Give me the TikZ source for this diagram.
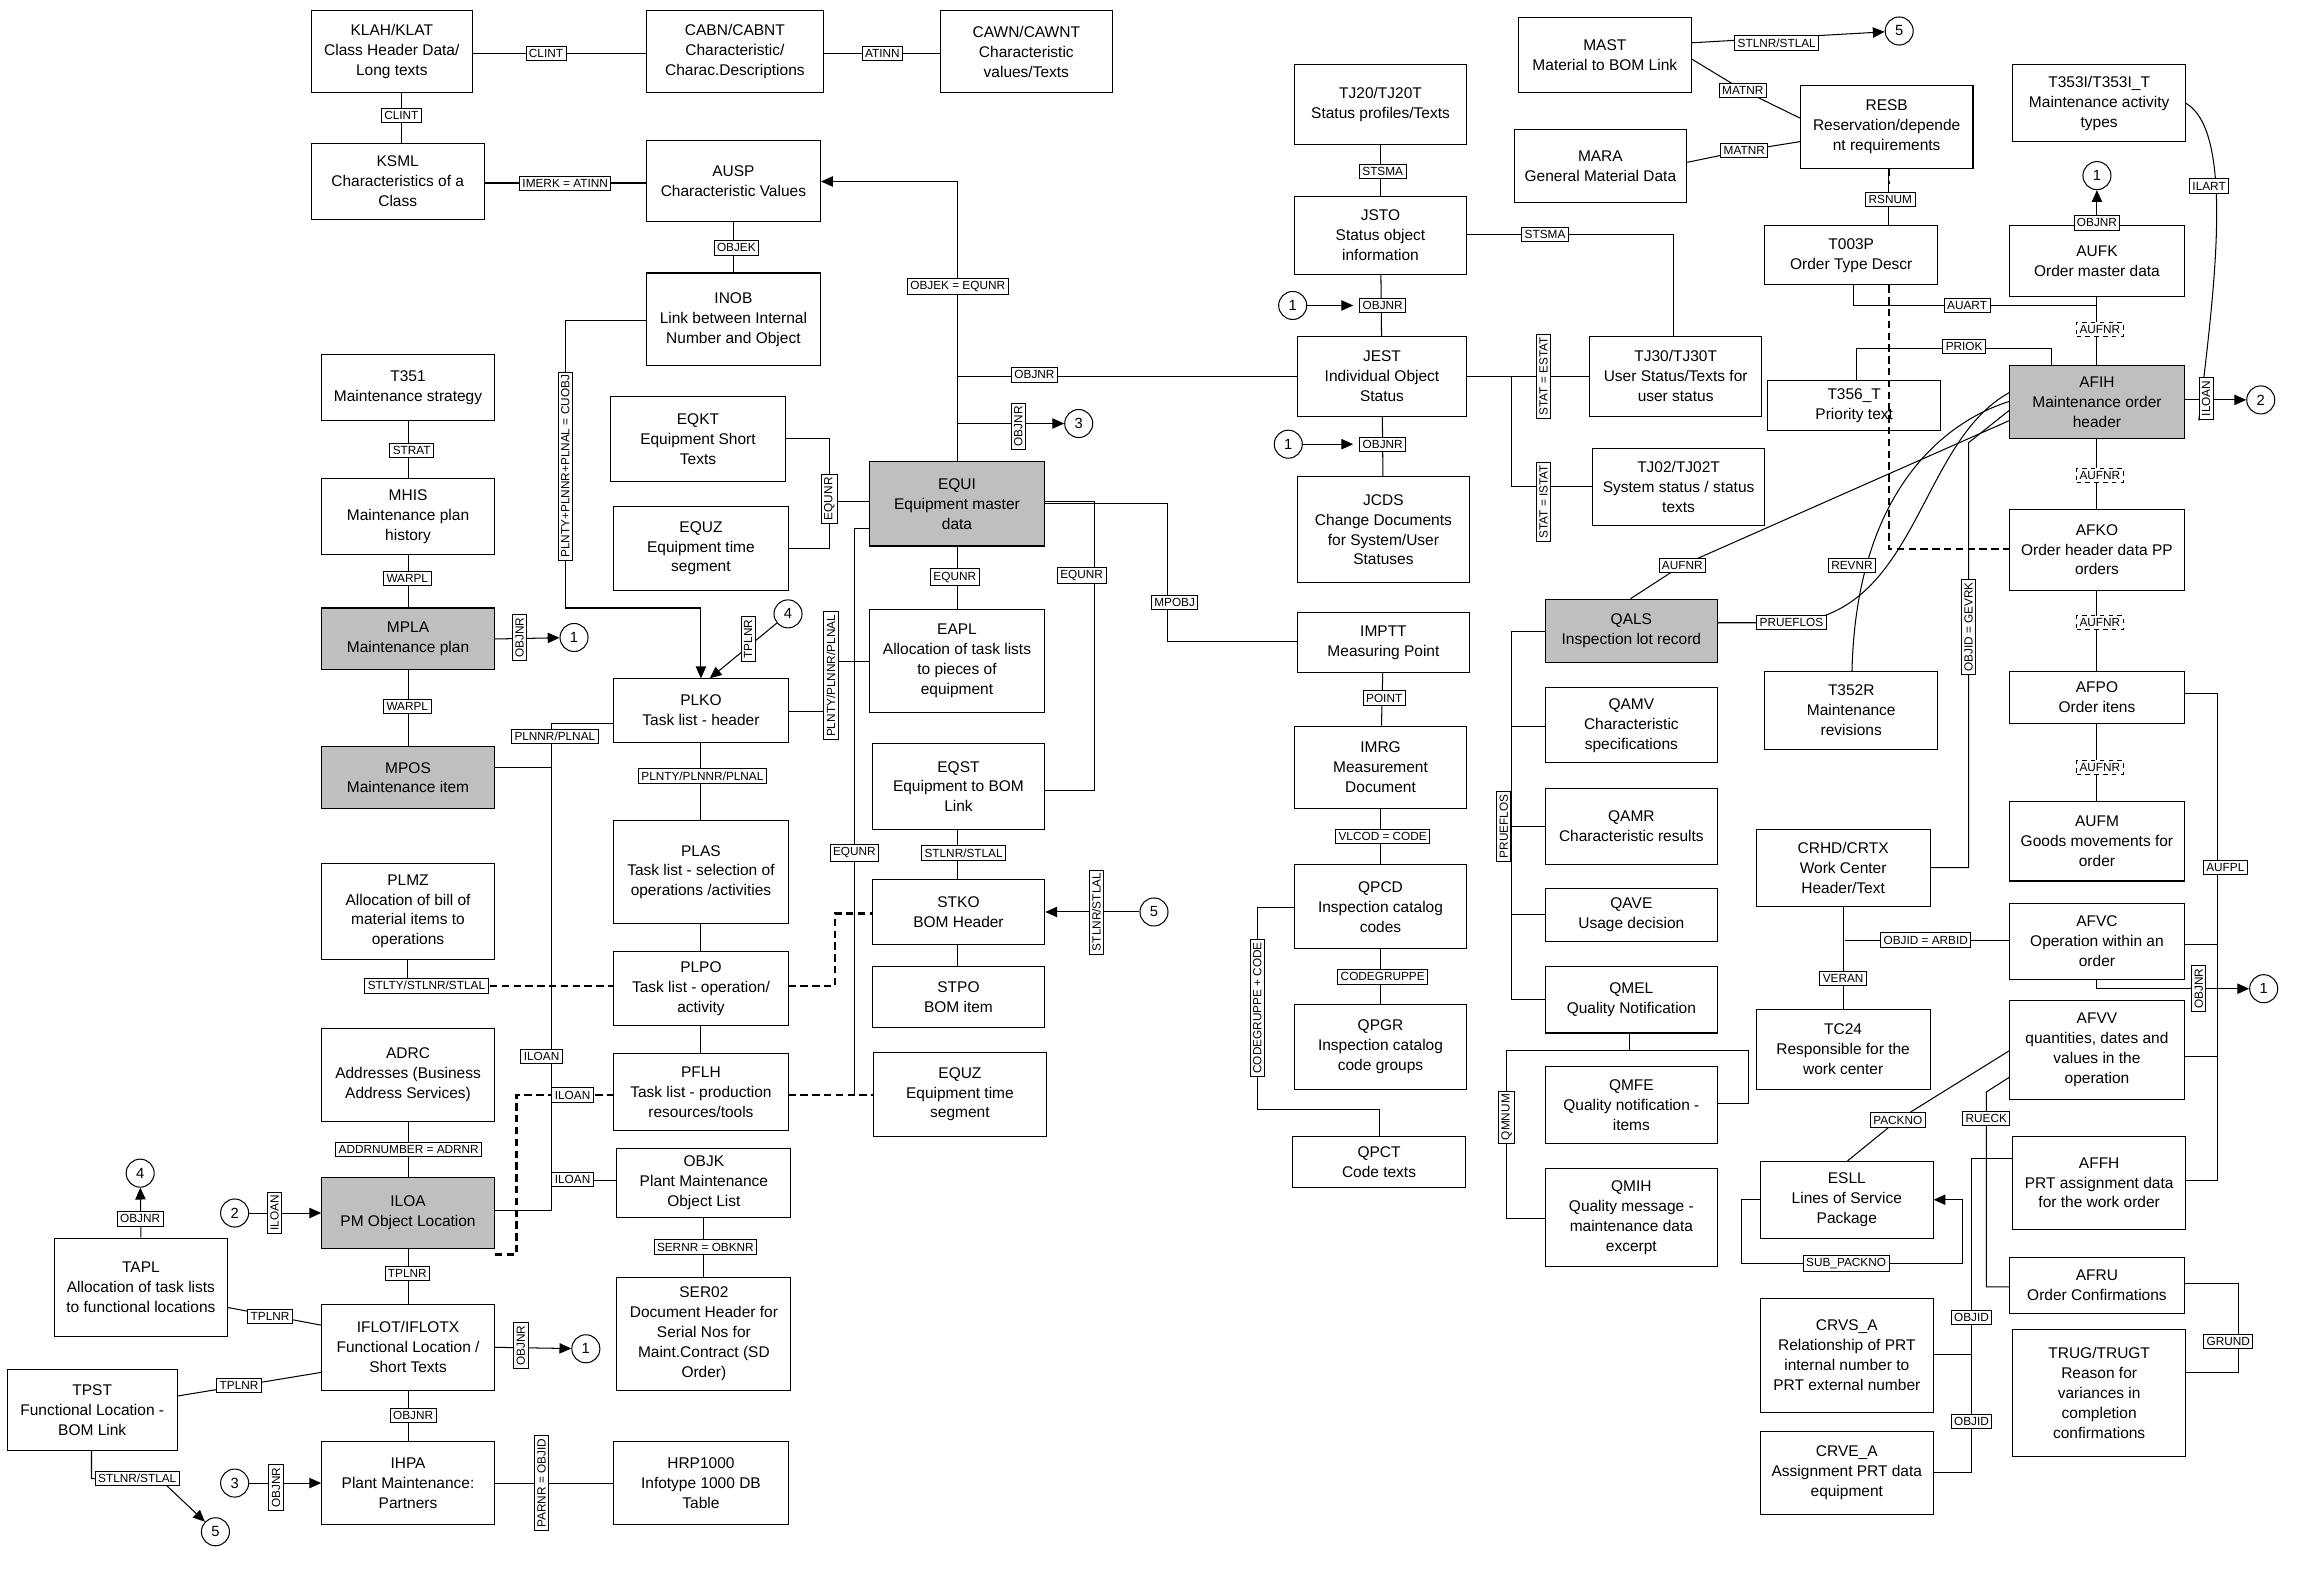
\documentclass[tikz,border=0pt]{standalone}
\usepackage{fontspec}
\setmainfont{Liberation Sans}
\usetikzlibrary{arrows.meta}
\begin{document}
\begin{tikzpicture}[x=1pt,y=-1pt,
 box/.style={draw,line width=0.7pt,align=center,inner sep=1pt,font=\fontsize{10.5}{13.5}\selectfont},
 gbox/.style={box,fill=black!25},
 lab/.style={draw,fill=white,line width=0.6pt,inner sep=2pt,font=\fontsize{8}{9}\selectfont},
 vlab/.style={lab,rotate=90},
 dlab/.style={lab,dashed},
 circ/.style={draw,circle,line width=0.7pt,inner sep=0pt,minimum size=19pt,font=\fontsize{10}{11}\selectfont},
 ln/.style={line width=0.7pt},
 ar/.style={ln,-{Triangle[length=8pt,width=7pt]}},
 dl/.style={line width=1.6pt,dash pattern=on 5pt off 3pt}]
\useasboundingbox (0,0) rectangle (1562,1063);
\newcommand\B[7][box]{\pgfmathsetmacro\w{#5-#3}\pgfmathsetmacro\h{#6-#4}\node[#1,minimum width=\w pt,minimum height=\h pt] (#2) at ({(#3+#5)/2},{(#4+#6)/2}) {#7};}
\newcommand\C[3]{\node[circ] (#1) at (#2) {#3};}
% ---------- boxes
\B{klah}{211}{7}{320}{63}{KLAH/KLAT\\Class Header Data/\\Long texts}
\B{cabn}{438}{7}{558}{63}{CABN/CABNT\\Characteristic/\\Charac.Descriptions}
\B{cawn}{637}{7}{754}{63}{CAWN/CAWNT\\Characteristic\\values/Texts}
\B{ksml}{211}{97}{328}{149}{KSML\\Characteristics of a\\Class}
\B{ausp}{438}{95}{556}{150}{AUSP\\Characteristic Values}
\B{inob}{438}{185}{556}{248}{INOB\\Link between Internal\\Number and Object}
\B{t351}{218}{240}{335}{285}{T351\\Maintenance strategy}
\B{mhis}{218}{324}{335}{376}{MHIS\\Maintenance plan\\history}
\B[gbox]{mpla}{218}{412}{335}{454}{MPLA\\Maintenance plan}
\B[gbox]{mpos}{218}{506}{335}{548}{MPOS\\Maintenance item}
\B{plmz}{218}{585}{335}{650}{PLMZ\\Allocation of bill of\\material items to\\operations}
\B{adrc}{218}{697}{335}{760}{ADRC\\Addresses (Business\\Address Services)}
\B[gbox]{iloa}{218}{798}{335}{846}{ILOA\\PM Object Location}
\B{iflot}{218}{884}{335}{942}{IFLOT/IFLOTX\\Functional Location /\\Short Texts}
\B{ihpa}{218}{977}{335}{1033}{IHPA\\Plant Maintenance:\\Partners}
\B{hrp}{416}{977}{534}{1033}{HRP1000\\Infotype 1000 DB\\Table}
\B{tapl}{37}{839}{154}{906}{TAPL\\Allocation of task lists\\to functional locations}
\B{tpst}{5}{928}{120}{983}{TPST\\Functional Location -\\BOM Link}
\B{eqkt}{414}{269}{532}{326}{EQKT\\Equipment Short\\Texts}
\B{equz}{416}{343}{534}{400}{EQUZ\\Equipment time\\segment}
\B[gbox]{equi}{589}{313}{708}{370}{EQUI\\Equipment master\\data}
\B{eapl}{589}{413}{708}{483}{EAPL\\Allocation of task lists\\to pieces of\\equipment}
\B{eqst}{591}{504}{708}{562}{EQST\\Equipment to BOM\\Link}
\B{stko}{591}{596}{708}{640}{STKO\\BOM Header}
\B{stpo}{591}{655}{708}{696}{STPO\\BOM item}
\B{equzb}{592}{713}{709}{770}{EQUZ\\Equipment time\\segment}
\B{plko}{416}{460}{534}{503}{PLKO\\Task list - header}
\B{plas}{416}{556}{534}{626}{PLAS\\Task list - selection of\\operations /activities}
\B{plpo}{416}{645}{534}{695}{PLPO\\Task list - operation/\\activity}
\B{pflh}{416}{714}{534}{766}{PFLH\\Task list - production\\resources/tools}
\B{objk}{418}{778}{536}{825}{OBJK\\Plant Maintenance\\Object List}
\B{ser}{418}{866}{536}{942}{SER02\\Document Header for\\Serial Nos for\\Maint.Contract (SD\\Order)}
\B{tj20}{877}{44}{994}{98}{TJ20/TJ20T\\Status profiles/Texts}
\B{jsto}{877}{133}{994}{186}{JSTO\\Status object\\information}
\B{jest}{879}{228}{994}{282}{JEST\\Individual Object\\Status}
\B{jcds}{879}{323}{996}{395}{JCDS\\Change Documents\\for System/User\\Statuses}
\B{tj30}{1077}{228}{1194}{282}{TJ30/TJ30T\\User Status/Texts for\\user status}
\B{tj02}{1079}{304}{1196}{356}{TJ02/TJ02T\\System status / status\\texts}
\B{imptt}{879}{415}{996}{456}{IMPTT\\Measuring Point}
\B{imrg}{877}{492}{994}{548}{IMRG\\Measurement\\Document}
\B{qpcd}{877}{586}{994}{643}{QPCD\\Inspection catalog\\codes}
\B{qpgr}{877}{681}{994}{738}{QPGR\\Inspection catalog\\code groups}
\B{qpct}{876}{770}{993}{805}{QPCT\\Code texts}
\B{mast}{1029}{12}{1146}{63}{MAST\\Material to BOM Link}
\B{resb}{1220}{58}{1337}{114}{RESB\\Reservation/depende\\nt requirements}
\B{mara}{1026}{88}{1143}{137}{MARA\\General Material Data}
\B{t003p}{1196}{153}{1313}{193}{T003P\\Order Type Descr}
\B{aufk}{1362}{153}{1480}{201}{AUFK\\Order master data}
\B{t356}{1198}{258}{1315}{292}{T356\_T\\Priority text}
\B[gbox]{afih}{1362}{248}{1480}{297}{AFIH\\Maintenance order\\header}
\B{t353}{1364}{44}{1481}{96}{T353I/T353I\_T\\Maintenance activity\\types}
\B{afko}{1362}{345}{1480}{400}{AFKO\\Order header data PP\\orders}
\B{afpo}{1362}{455}{1480}{490}{AFPO\\Order itens}
\B{aufm}{1362}{543}{1480}{597}{AUFM\\Goods movements for\\order}
\B{afvc}{1362}{612}{1480}{664}{AFVC\\Operation within an\\order}
\B{afvv}{1362}{678}{1480}{745}{AFVV\\quantities, dates and\\values in the\\operation}
\B{affh}{1364}{770}{1481}{833}{AFFH\\PRT assignment data\\for the work order}
\B{afru}{1362}{852}{1480}{890}{AFRU\\Order Confirmations}
\B{trug}{1364}{901}{1481}{987}{TRUG/TRUGT\\Reason for\\variances in\\completion\\confirmations}
\B[gbox]{qals}{1047}{406}{1164}{449}{QALS\\Inspection lot record}
\B{qamv}{1047}{466}{1164}{517}{QAMV\\Characteristic\\specifications}
\B{qamr}{1047}{534}{1164}{586}{QAMR\\Characteristic results}
\B{qave}{1047}{602}{1164}{638}{QAVE\\Usage decision}
\B{qmel}{1047}{655}{1164}{700}{QMEL\\Quality Notification}
\B{qmfe}{1047}{723}{1164}{775}{QMFE\\Quality notification -\\items}
\B{qmih}{1047}{792}{1164}{858}{QMIH\\Quality message -\\maintenance data\\excerpt}
\B{t352}{1196}{455}{1313}{508}{T352R\\Maintenance\\revisions}
\B{crhd}{1190}{562}{1308}{614}{CRHD/CRTX\\Work Center\\Header/Text}
\B{tc24}{1190}{684}{1308}{738}{TC24\\Responsible for the\\work center}
\B{esll}{1193}{787}{1310}{839}{ESLL\\Lines of Service\\Package}
\B{crvs}{1193}{880}{1310}{957}{CRVS\_A\\Relationship of PRT\\internal number to\\PRT external number}
\B{crve}{1193}{970}{1310}{1026}{CRVE\_A\\Assignment PRT data\\equipment}
% ---------- circles
\C{c1a}{389,432}{1}\C{c1b}{397,914}{1}\C{c1c}{876,207}{1}\C{c1d}{873,301}{1}
\C{c1e}{1421,119}{1}\C{c1f}{1534,670}{1}
\C{c2a}{159,822}{2}\C{c2b}{1532,271}{2}
\C{c3a}{731,287}{3}\C{c3b}{159,1005}{3}
\C{c4a}{534,416}{4}\C{c4b}{95,795}{4}
\C{c5a}{782,618}{5}\C{c5b}{146,1038}{5}\C{c5c}{1287,21}{5}
% ---------- connectors
\draw[ln] (klah.east|-0,36)--(cabn.west|-0,36);
\draw[ln] (cabn.east|-0,36)--(cawn.west|-0,36);
\draw[ln] (klah.south-|272,0)--(ksml.north-|272,0);
\draw[ln] (ksml.east|-0,124)--(ausp.west|-0,124);
\draw[ln] (ausp)--(inob);
\draw[ar] (equi.north-|649,0)--(649,123)--(ausp.east|-0,123);
\draw[ar] (inob.west|-0,217)--(383,217)--(383,412)--(475,412)--(plko.north-|475,0);
\draw[ar] (c4a)--(plko.north-|481,0);
\draw[ln] (t351)--(mhis); \draw[ln] (mhis)--(mpla); \draw[ln] (mpla)--(mpos);
\draw[ar] (mpla.east)--(c1a);
\draw[ln] (plko.west|-0,490)--(374,490)--(374,820)--(iloa.east|-0,820);
\draw[ln] (mpos.east|-0,520)--(374,520);
\draw[ln] (plko)--(plas); \draw[ln] (plas)--(plpo); \draw[ln] (plpo)--(pflh);
\draw[ln] (plmz.south-|276,0)--(276,668);
\draw[dl] (300,668)--(plpo.west|-0,668);
\draw[dl] (plpo.east|-0,668)--(566,668)--(566,619)--(stko.west|-0,619);
\draw[ln] (adrc)--(iloa);
\draw[dl] (iloa.east|-0,850)--(350,850)--(350,742)--(pflh.west|-0,742);
\draw[dl] (pflh.east|-0,742)--(equzb.west|-0,742);
\draw[ln] (374,800)--(objk.west|-0,800);
\draw[ar] (c2a)--(iloa.west|-0,822);
\draw[ln] (iloa)--(iflot); \draw[ln] (iflot)--(ihpa);
\draw[ar] (iflot.east|-0,913)--(c1b);
\draw[ar] (c3b)--(ihpa.west|-0,1005);
\draw[ln] (ihpa.east|-0,1005)--(hrp.west|-0,1005);
\draw[ar] (tapl.north)--(c4b);
\draw[ln] (tapl.east|-0,886)--(iflot.west|-0,898);
\draw[ln] (tpst.east|-0,946)--(iflot.west|-0,930);
\draw[ar] (tpst.south-|62,0)--(62,1002)--(108,1002)--(c5b);
\draw[ln] (objk)--(ser);
\draw[ln] (eqkt.east|-0,297)--(562,297)--(562,372)--(equz.east|-0,372);
\draw[ln] (562,340)--(equi.west|-0,340);
\draw[ln] (equi.east|-0,340)--(742,340)--(742,536)--(eqst.east|-0,536);
\draw[ln] (equi.south-|649,0)--(eapl.north-|649,0);
\draw[ln] (plko.east|-0,482)--(563,482)--(563,448)--(eapl.west|-0,448);
\draw[ln] (eqst.south-|649,0)--(stko.north-|649,0);
\draw[ln] (stko.south-|649,0)--(stpo.north-|649,0);
\draw[ar] (c5a)--(stko.east|-0,618);
\draw[ln] (equi.west|-0,358)--(579,358)--(579,742);
\draw[ln] (equi.east|-0,341)--(791,341)--(791,435)--(imptt.west|-0,435);
\draw[ln] (649,255)--(jest.west|-0,255);
\draw[ar] (649,287)--(c3a);
\draw[ln] (tj20)--(jsto); \draw[ln] (jsto)--(jest); \draw[ln] (jest)--(jcds);
\draw[ar] (c1c)--(917,207); \draw[ar] (c1d)--(917,301);
\draw[ln] (jsto.east|-0,159)--(1134,159)--(tj30.north-|1134,0);
\draw[ln] (jest.east|-0,255)--(tj30.west|-0,255);
\draw[ln] (1024,255)--(1024,330)--(tj02.west|-0,330);
\draw[ln] (imptt)--(imrg); \draw[ln] (imrg)--(qpcd); \draw[ln] (qpcd)--(qpgr);
\draw[ln] (qpcd.west|-0,615)--(852,615)--(852,752)--(935,752)--(qpct.north-|935,0);
\draw[ar] (mast.east|-0,29)--(c5c);
\draw[ln] (mast.east|-0,40)--(1181,61)--(resb.west|-0,80);
\draw[ln] (mara.east|-0,110)--(1182,102)--(resb.west|-0,96);
\draw[ln] (resb.south-|1280,0)--(t003p.north-|1280,0);
\draw[dl] (resb.south-|1280,0)--(1280,125);
\draw[dl] (t003p.south-|1280,0)--(1280,372)--(afko.west|-0,372);
\draw[ln] (t003p.south-|1256,0)--(1256,207)--(1421,207);
\draw[ar] (aufk)--(c1e);
\draw[ln] (aufk)--(afih);
\draw[ln] (t356.north-|1258,0)--(1258,236)--(1390,236)--(afih.north-|1390,0);
\draw[ln] (t353.east|-0,70) .. controls (1515,90) and (1500,200) .. (1490,285);
\draw[ar] (afih.east|-0,271)--(c2b);
\draw[ln] (qals.north-|1105,0)--(1140,383)--(afih.west|-0,285);
\draw[ln] (t352.north-|1255,0) .. controls (1258,330) and (1320,285) .. (afih.west|-0,272);
\draw[ln] (qals.east|-0,422)--(1214,422) .. controls (1300,415) and (1300,300) .. (afih.west|-0,266);
\draw[ln] (crhd.east|-0,588)--(1334,588)--(1334,300)--(afih.west|-0,278);
\draw[ln] (afih)--(afko); \draw[ln] (afko)--(afpo); \draw[ln] (afpo)--(aufm);
\draw[ln] (afpo.east|-0,470)--(1503,470)--(1503,800)--(affh.east|-0,800);
\draw[ln] (1503,716)--(afvv.east|-0,716);
\draw[ln] (1503,640)--(afvc.east|-0,640);
\draw[ar] (afvc.south-|1421,0)--(1421,670)--(c1f);
\draw[ln] (crhd)--(tc24);
\draw[ln] (1250,637)--(afvc.west|-0,637);
\draw[ln] (esll.north-|1252,0)--(1286,759)--(afvv.west|-0,712);
\draw[ln] (afvv.west|-0,730)--(1346,740)--(1346,872)--(afru.west|-0,872);
\draw[ar] (esll.west|-0,813)--(1180,813)--(1180,856)--(1330,856)--(1330,813)--(esll.east|-0,813);
\draw[ln] (crvs.east|-0,918)--(1336,918)--(1336,998)--(crve.east|-0,998);
\draw[ln] (1336,918)--(1336,785)--(affh.west|-0,785);
\draw[ln] (afru.east|-0,870)--(1517,870)--(1517,930)--(trug.east|-0,930);
\draw[ln] (qals.west|-0,428)--(1024,428)--(1024,677)--(qmel.west|-0,677);
\foreach \y in {492,560,620} \draw[ln] (1024,\y)--(1047,\y);
\draw[ln] (qmel.south-|1104,0)--(1104,712)--(1021,712)--(1021,826)--(qmih.west|-0,826);
\draw[ln] (qmfe.east|-0,748)--(1185,748)--(1185,712)--(1104,712);
% ---------- labels
\node[lab] at (370,36) {CLINT};
\node[lab] at (598,36) {ATINN};
\node[lab] at (272,78) {CLINT};
\node[lab] at (383,124) {IMERK = ATINN};
\node[lab] at (499,168) {OBJEK};
\node[lab] at (649,194) {OBJEK = EQUNR};
\node[vlab] at (383,316) {PLNTY+PLNNR+PLNAL = CUOBJ};
\node[vlab] at (507,433) {TPLNR};
\node[lab] at (279,305) {STRAT};
\node[lab] at (276,392) {WARPL};
\node[vlab] at (352,432) {OBJNR};
\node[lab] at (276,479) {WARPL};
\node[lab] at (376,499) {PLNNR/PLNAL};
\node[lab] at (476,526) {PLNTY/PLNNR/PLNAL};
\node[lab] at (289,668) {STLTY/STLNR/STLAL};
\node[lab] at (367,716) {ILOAN};
\node[lab] at (388,742) {ILOAN};
\node[lab] at (388,799) {ILOAN};
\node[lab] at (277,779) {ADDRNUMBER = ADRNR};
\node[vlab] at (186,822) {ILOAN};
\node[lab] at (276,863) {TPLNR};
\node[vlab] at (353,912) {OBJNR};
\node[lab] at (280,959) {OBJNR};
\node[vlab] at (187,1008) {OBJNR};
\node[vlab] at (367,1005) {PARNR = OBJID};
\node[lab] at (95,826) {OBJNR};
\node[lab] at (183,892) {TPLNR};
\node[lab] at (162,939) {TPLNR};
\node[lab] at (93,1002) {STLNR/STLAL};
\node[lab] at (478,845) {SERNR = OBKNR};
\node[vlab] at (562,338) {EQUNR};
\node[lab] at (701,254) {OBJNR};
\node[vlab] at (690,289) {OBJNR};
\node[lab] at (647,391) {EQUNR};
\node[lab] at (733,390) {EQUNR};
\node[vlab] at (563,458) {PLNTY/PLNNR/PLNAL};
\node[lab] at (653,578) {STLNR/STLAL};
\node[vlab] at (743,618) {STLNR/STLAL};
\node[lab] at (579,578) {EQUNR};
\node[lab] at (796,408) {MPOBJ};
\node[lab] at (937,116) {STSMA};
\node[lab] at (1047,159) {STSMA};
\node[lab] at (937,207) {OBJNR};
\node[lab] at (937,301) {OBJNR};
\node[vlab] at (1046,255) {STAT = ESTAT};
\node[vlab] at (1046,340) {STAT = ISTAT};
\node[lab] at (938,473) {POINT};
\node[lab] at (937,567) {VLCOD = CODE};
\node[lab] at (937,662) {CODEGRUPPE};
\node[vlab] at (852,683) {CODEGRUPPE + CODE};
\node[lab] at (1204,29) {STLNR/STLAL};
\node[lab] at (1181,61) {MATNR};
\node[lab] at (1182,102) {MATNR};
\node[lab] at (1281,135) {RSNUM};
\node[lab] at (1333,207) {AUART};
\node[lab] at (1421,151) {OBJNR};
\node[dlab] at (1423,223) {AUFNR};
\node[lab] at (1331,235) {PRIOK};
\node[lab] at (1497,126) {ILART};
\node[vlab] at (1495,270) {ILOAN};
\node[dlab] at (1423,322) {AUFNR};
\node[dlab] at (1423,422) {AUFNR};
\node[dlab] at (1423,520) {AUFNR};
\node[lab] at (1140,383) {AUFNR};
\node[lab] at (1214,422) {PRUEFLOS};
\node[lab] at (1255,383) {REVNR};
\node[vlab] at (1334,425) {OBJID = GEVRK};
\node[vlab] at (1019,560) {PRUEFLOS};
\node[vlab] at (1021,757) {QMNUM};
\node[lab] at (1508,588) {AUFPL};
\node[vlab] at (1490,670) {OBJNR};
\node[lab] at (1305,637) {OBJID = ARBID};
\node[lab] at (1249,663) {VERAN};
\node[lab] at (1286,759) {PACKNO};
\node[lab] at (1346,758) {RUECK};
\node[lab] at (1251,856) {SUB\_PACKNO};
\node[lab] at (1336,893) {OBJID};
\node[lab] at (1336,963) {OBJID};
\node[lab] at (1510,909) {GRUND};
\end{tikzpicture}
\end{document}
